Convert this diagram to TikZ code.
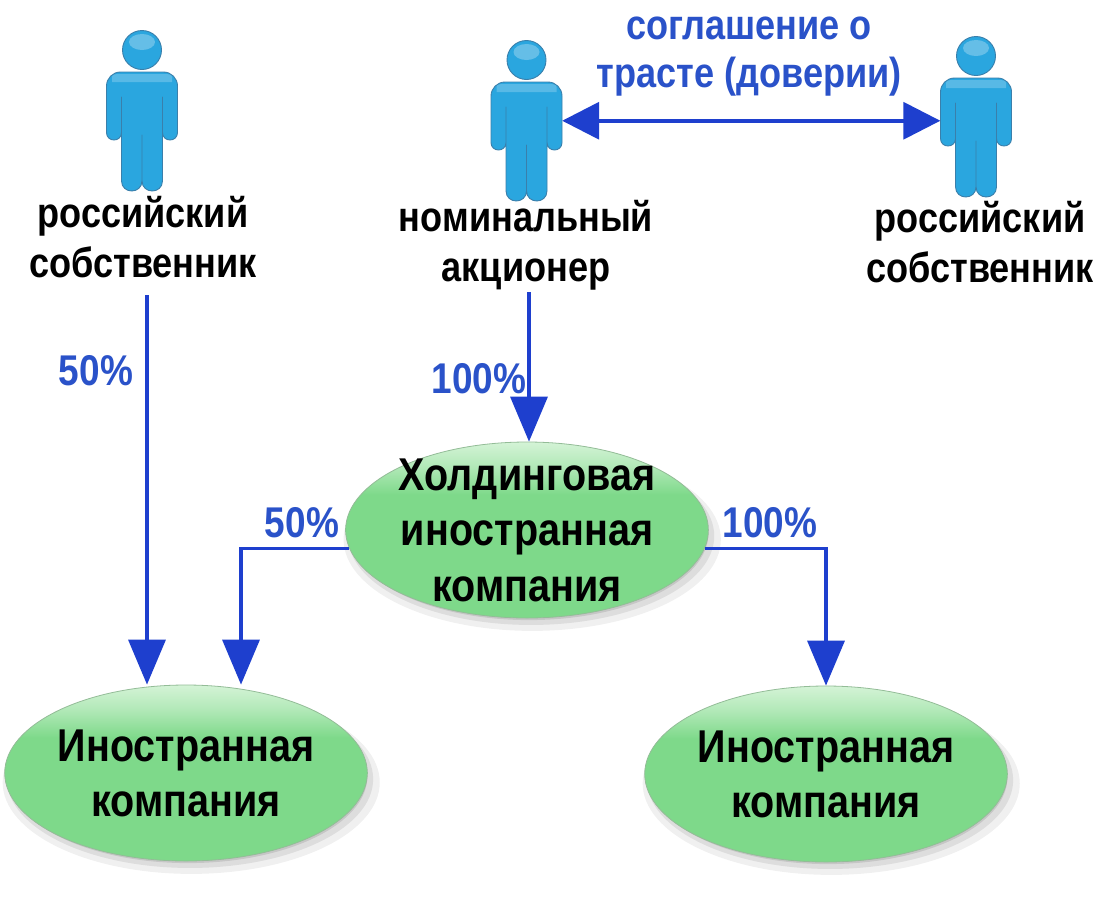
\documentclass[tikz,border=0pt]{standalone}
\usepackage{fontspec}
\newfontfamily\cond[FakeStretch=0.86]{Liberation Sans}
\usetikzlibrary{arrows.meta,shapes.geometric,shadows,calc}
\definecolor{arrblue}{HTML}{1E3FCE}
\definecolor{lblblue}{HTML}{2A52C9}
\definecolor{pfill}{HTML}{2AA6DF}
\definecolor{pedge}{HTML}{3A7FAB}
\definecolor{gmain}{HTML}{7ED98A}
\definecolor{glight}{HTML}{D4F3D6}
\definecolor{gedge}{HTML}{93BC97}
\pgfdeclareverticalshading{glossgreen}{100bp}{color(0bp)=(gmain); color(25bp)=(gmain); color(60bp)=(gmain); color(68bp)=(glight!60!gmain); color(75bp)=(glight); color(100bp)=(glight)}
\tikzset{
  pfigure/.style={fill=pfill, draw=pedge, line width=0.9pt, line join=round},
  person/.pic={
    \path[pfigure] (0,22) -- (21.5,22) .. controls (29.2,22) and (35.5,28.3) .. (35.5,36)
      -- (35.5,82.5) .. controls (35.5,92.5) and (20.5,92.5) .. (20.5,82.5)
      -- (20.5,47) -- (20.5,130.75)
      .. controls (20.5,144.4) and (0,144.4) .. (0,130.75)
      -- (0,85) -- (0,130.75)
      .. controls (0,144.4) and (-20.5,144.4) .. (-20.5,130.75)
      -- (-20.5,47) -- (-20.5,82.5)
      .. controls (-20.5,92.5) and (-35.5,92.5) .. (-35.5,82.5)
      -- (-35.5,36) .. controls (-35.5,28.3) and (-29.2,22) .. (-21.5,22) -- cycle;
    \fill[white,opacity=0.22] (-30,27) .. controls (-30,24) and (-26,24) .. (-20,24) -- (20,24) .. controls (26,24) and (30,24) .. (30,27) -- (30,32) -- (-30,32) -- cycle;
    \path[pfigure] (0,0) circle[radius=19.5pt];
    \fill[white,opacity=0.28] (0,-8) ellipse[x radius=13pt,y radius=8pt];
    \node[inner sep=0pt,minimum width=71pt,minimum height=160.5pt] (-box) at (0,60.75) {};
  },
  lbl/.style={font=\cond\bfseries\fontsize{42}{50}\selectfont, align=center, inner sep=0pt, text=black},
  toplbl/.style={font=\cond\bfseries\fontsize{42}{48}\selectfont, align=center, inner sep=0pt, text=lblblue},
  pct/.style={font=\cond\bfseries\fontsize{43}{50}\selectfont, inner sep=0pt, text=lblblue, anchor=base},
  ell/.style={ellipse, minimum width=360pt, minimum height=176pt, inner xsep=0pt, inner ysep=-22pt,
    shading=glossgreen, draw=gedge, line width=0.8pt, align=center, text=black,
    drop shadow={shadow xshift=5pt, shadow yshift=-9pt, shadow scale=1.04, opacity=0.06, fill=black},
    drop shadow={shadow xshift=4pt, shadow yshift=-6pt, shadow scale=1.01, opacity=0.08, fill=black},
    drop shadow={shadow xshift=2pt, shadow yshift=-3pt, shadow scale=0.99, opacity=0.10, fill=black}},
  arr/.style={draw=arrblue, line width=3.5pt, -{Triangle[length=45pt,width=37pt]}},
  darr/.style={draw=arrblue, line width=3.5pt, {Triangle[length=37pt,width=37pt]}-{Triangle[length=37pt,width=37pt]}}
}
\begin{document}
\begin{tikzpicture}[x=1pt,y=-1pt]
\useasboundingbox[fill=white] (0,0) rectangle (1110,897);

% people
\pic (p1) at (142,50) {person};
\pic (p2) at (526.5,60) {person};
\pic (p3) at (976,56) {person};

% labels
\node[lbl] (l1) at (143,237) {российский\\собственник};
\node[lbl] (l2) at (526,245) {номинальный\\акционер};
\node[lbl] (l3) at (980,242) {российский\\собственник};
\node[toplbl] (agr) at (749,57) {соглашение о\\трасте (доверии)};

% companies
\node[ell, font=\cond\bfseries\fontsize{46}{55.5}\selectfont] (eH) at (527,530) {Холдинговая\\иностранная\\компания};
\node[ell, font=\cond\bfseries\fontsize{46}{55}\selectfont] (eL) at (186,773) {Иностранная\\компания};
\node[ell, font=\cond\bfseries\fontsize{46}{55}\selectfont] (eR) at (826,774) {Иностранная\\компания};

% connectors
\draw[darr] (p2-box.east) -- (p3-box.west |- p2-box.east);
\coordinate (s1) at (147,295);
\coordinate (s2) at (529,292);
\draw[arr] (s1) -- (s1 |- eL.north);
\draw[arr] (s2) -- (s2 |- eH.north);
\draw[arr] (eH.186) -| ($(eL.north)+(55,0)$);
\draw[arr] (eH.354) -| (eR.north);

% percentages
\node[pct] (q1) at (96,385) {50\%};
\node[pct] (q2) at (479,393) {100\%};
\node[pct] (q3) at (302,537) {50\%};
\node[pct] (q4) at (770,537) {100\%};
\end{tikzpicture}
\end{document}
